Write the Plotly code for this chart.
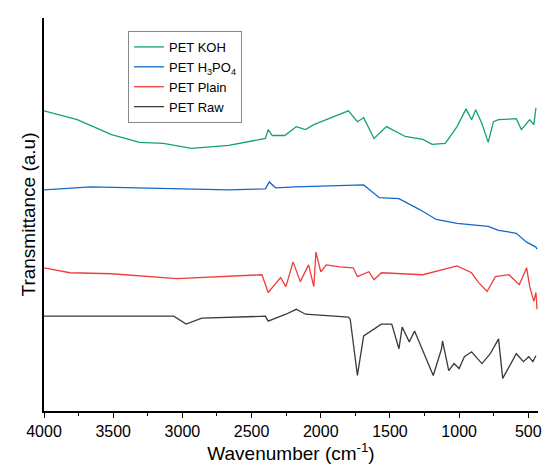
import plotly.graph_objects as go

# wavenumbers (cm-1) and signal (plotted on an inverted arbitrary scale)
koh_x = [4000, 3760, 3512, 3310, 3137, 2935, 2665, 2515, 2400, 2380, 2350, 2260, 2177, 2110, 2050, 1960,
         1800, 1735, 1690, 1615, 1525, 1390, 1262, 1195, 1100, 1015, 950, 910, 880, 835, 790, 752, 715,
         587, 550, 490, 460, 445]
koh_y = [99, 108, 123, 131, 132, 137, 134, 130, 127, 118, 124, 124, 115, 118, 113, 108,
         99, 110, 106, 127, 115, 125, 128, 133, 132, 115, 97, 108, 98, 112, 131, 110, 108,
         107, 118, 108, 113, 96]

h3po4_x = [4000, 3662, 2665, 2400, 2372, 2327, 2185, 1690, 1577, 1435, 1285, 1165, 1015, 790, 715,
           587, 512, 445, 437]
h3po4_y = [179, 176, 179, 178, 171, 177, 176, 174, 187, 188, 199, 209, 213, 216, 220,
           223, 232, 237, 239]

plain_x = [4000, 3812, 3512, 3040, 2425, 2380, 2290, 2252, 2200, 2148, 2088, 2050, 2035, 2000, 1960,
           1862, 1765, 1735, 1652, 1615, 1562, 1262, 1015, 910, 865, 798, 738, 640, 565, 512, 490,
           460, 445, 437]
plain_y = [258, 263, 264, 269, 265, 283, 268, 277, 252, 272, 255, 277, 242, 262, 255,
           257, 258, 267, 262, 270, 263, 265, 256, 263, 272, 282, 267, 265, 275, 258, 277,
           292, 283, 300]

raw_x = [4000, 3062, 2973, 2860, 2400, 2380, 2252, 2177, 2110, 1800, 1787, 1735, 1690, 1562, 1487,
         1435, 1412, 1360, 1322, 1187, 1127, 1120, 1075, 1037, 1000, 962, 910, 835, 775, 715, 685,
         587, 535, 497, 467, 445]
raw_y = [307, 307, 315, 309, 307, 312, 305, 300, 305, 308, 310, 367, 327, 315, 315,
         340, 318, 333, 322, 367, 340, 332, 362, 355, 360, 348, 343, 355, 345, 330, 370,
         345, 353, 348, 353, 347]

series = [
    ("PET KOH", koh_x, koh_y, "#13a36b"),
    ("PET H<sub>3</sub>PO<sub>4</sub>", h3po4_x, h3po4_y, "#1468cc"),
    ("PET Plain", plain_x, plain_y, "#f03c3c"),
    ("PET Raw", raw_x, raw_y, "#3a3a3a"),
]

fig = go.Figure()
for name, x, y, c in series:
    fig.add_trace(go.Scatter(x=x, y=y, name=name, mode="lines", line=dict(color=c, width=1.3)))

fig.update_layout(
    width=550, height=465, template="plotly_white",
    margin=dict(l=36, r=20, t=10, b=62),
    font=dict(family="Liberation Sans, Arial", size=16, color="black"),
    legend=dict(x=0.17, y=0.967, xanchor="left", yanchor="top", bordercolor="#888",
                borderwidth=1, bgcolor="white", font=dict(size=13)),
    xaxis=dict(range=[4000, 430], tickvals=[4000, 3500, 3000, 2500, 2000, 1500, 1000, 500],
               showgrid=False, zeroline=False, showline=True, linecolor="black", linewidth=1.5,
               ticks="outside", ticklen=5, tickcolor="black",
               minor=dict(ticks="outside", ticklen=3, dtick=250, tickcolor="black"),
               title=dict(text="Wavenumber (cm<sup>-1</sup>)", font=dict(size=19), standoff=4)),
    yaxis=dict(range=[403, 5], showticklabels=False, showgrid=False, zeroline=False,
               showline=True, linecolor="black", linewidth=1.5,
               title=dict(text="Transmittance (a.u)", font=dict(size=19), standoff=2)),
)
fig.write_html("out.html")
